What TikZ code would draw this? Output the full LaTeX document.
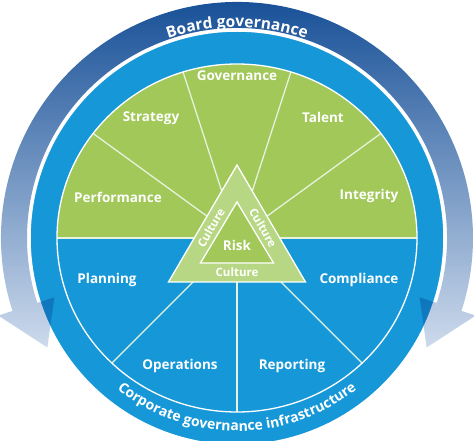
\documentclass[tikz,border=0pt]{standalone}
\usepackage{fontspec}
\setmainfont{Open Sans}
\usetikzlibrary{decorations.text}
\definecolor{cgnavy}{RGB}{10,70,145}
\definecolor{cgmidblue}{RGB}{60,110,175}
\definecolor{cgpaleblue}{RGB}{205,218,236}
\definecolor{cgblue}{RGB}{22,152,216}
\definecolor{cggreen}{RGB}{161,200,89}
\definecolor{cglightgreen}{RGB}{184,215,132}
\definecolor{cgline}{RGB}{230,242,220}
\newcommand{\cglabelfont}{\fontsize{13.5pt}{15pt}\selectfont\bfseries}
\newcommand{\cgringfont}{\fontsize{15.5pt}{17pt}\selectfont\bfseries}
\newcommand{\cgbasefont}{\fontsize{14pt}{16pt}\selectfont\bfseries}

\begin{document}
\begin{tikzpicture}[x=1pt, y=1pt,
    seglabel/.style={text=white, font=\cglabelfont},
    culturelabel/.style={text=white, font=\fontsize{11.5pt}{12pt}\selectfont\bfseries, inner sep=0pt},
    wheelline/.style={draw=cgline, line width=1.3pt}]
  \useasboundingbox (-237,-203) rectangle (237,238);

  % infrastructure ring
  \filldraw[fill=cgblue, draw=white, line width=1.5pt] (0,0) circle[radius=207];

  % board governance arrow
  \begin{scope}[blend mode=multiply]
    \shade[top color=cgnavy, middle color=cgmidblue, bottom color=cgpaleblue]
      (198:236) arc[start angle=198, end angle=-18, radius=236]
      -- (-18:251) -- (-30:219) -- (-18:192) -- (-18:210)
      arc[start angle=-18, end angle=198, radius=210]
      -- (198:192) -- (210:219) -- (198:251) -- cycle;
  \end{scope}

  % wheel
  \begin{scope}
    \clip (0,0) ellipse[x radius=180, y radius=174];
    \fill[cggreen] (-181,0) rectangle (181,175);
    \fill[cgblue] (-181,0) rectangle (181,-175);
    \foreach \a in {36,72,108,144,-45,-90,-135}
      \draw[wheelline] (0,0) -- (\a:200);
    \draw[wheelline] (-181,0) -- (181,0);
  \end{scope}
  \draw[wheelline, draw=white] (0,0) ellipse[x radius=180, y radius=174];

  % culture triangle
  \filldraw[fill=cglightgreen, draw=white, line width=1.3pt]
    (0,73) -- (68.5,-44) -- (-68.5,-44) -- cycle;
  \filldraw[fill=cggreen, draw=white, line width=1.3pt]
    (0,36) -- (36.5,-25) -- (-36.5,-25) -- cycle;

  \node[seglabel] (risk) at (0,-7) {Risk};
  \node[culturelabel] (cultureb) at (0,-34) {Culture};
  \node[culturelabel, rotate=60] (culturel) at (-26,10) {Culture};
  \node[culturelabel, rotate=-60] (culturer) at (26,10) {Culture};

  % segments
  \node[seglabel] (governance) at (0,162) {Governance};
  \node[seglabel] (strategy) at (-86,120) {Strategy};
  \node[seglabel] (talent) at (86,121) {Talent};
  \node[seglabel] (performance) at (-119,41) {Performance};
  \node[seglabel] (integrity) at (132,42) {Integrity};
  \node[seglabel] (planning) at (-130,-42) {Planning};
  \node[seglabel] (compliance) at (122,-42) {Compliance};
  \node[seglabel] (operations) at (-57,-128) {Operations};
  \node[seglabel] (reporting) at (55,-128) {Reporting};

  % ring texts
  \path[decorate, decoration={text along path, text align=center, text color=white,
      text={|\cgringfont|Board governance}}]
    (150:211) arc[start angle=150, end angle=30, radius=211];
  \path[decorate, decoration={text along path, text align=center, text color=white,
      text={|\cgbasefont|Corporate governance infrastructure}}]
    (212:193) arc[start angle=212, end angle=328, radius=193];
\end{tikzpicture}
\end{document}
